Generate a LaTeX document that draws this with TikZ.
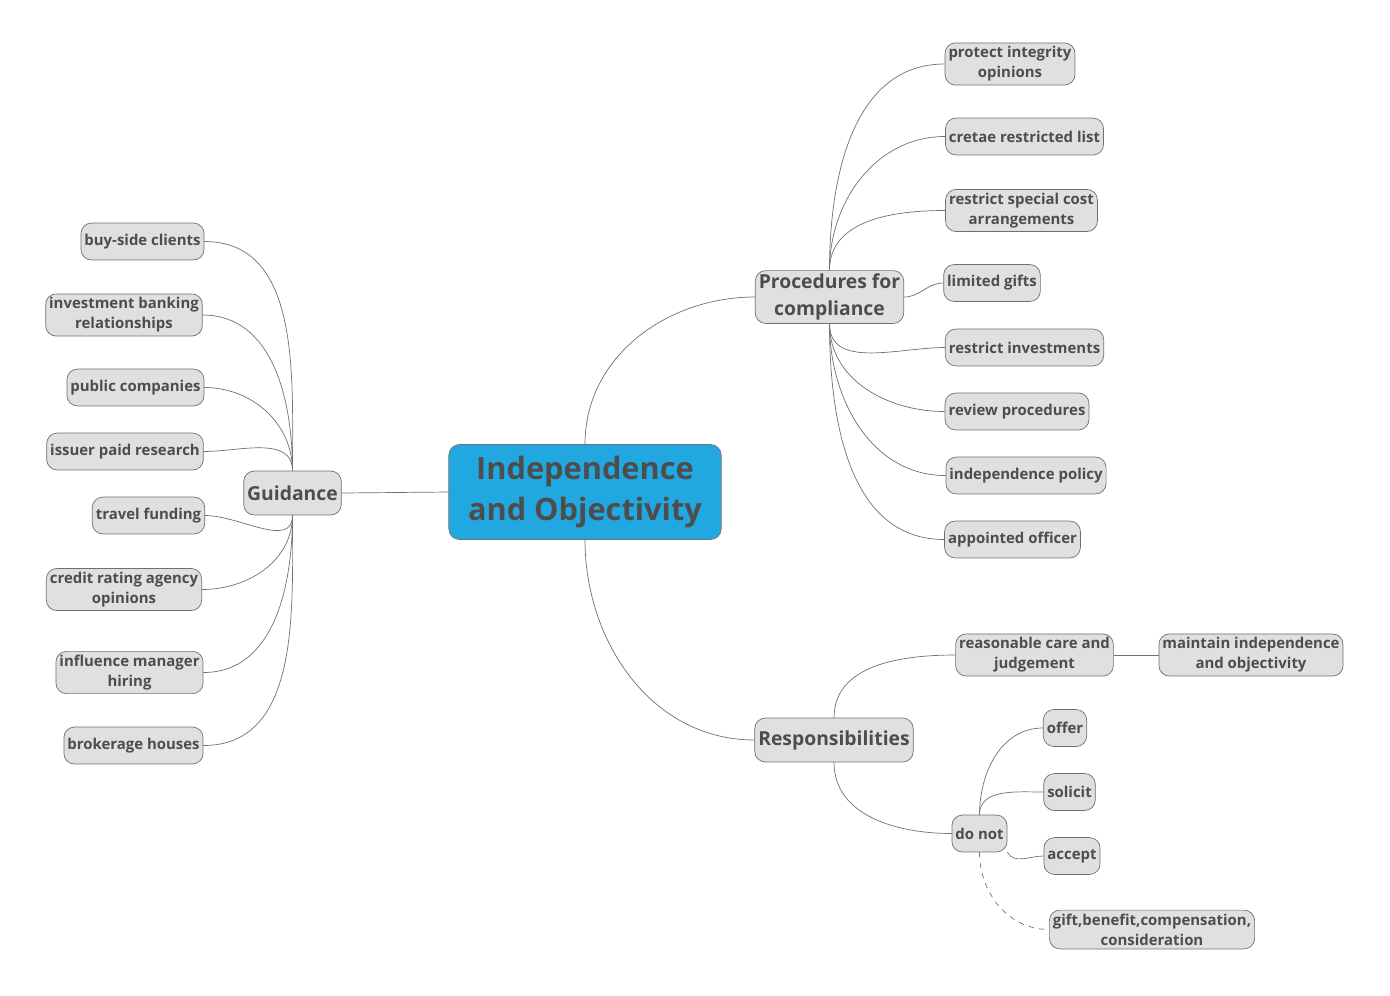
\documentclass[tikz,border=0pt]{standalone}
\usepackage{fontspec}
\setmainfont{Open Sans}
\usetikzlibrary{positioning}
\definecolor{txt}{HTML}{4D4D4D}
\definecolor{edge}{HTML}{707070}
\definecolor{box}{HTML}{E0E0E0}
\definecolor{rootblue}{HTML}{22A8E0}
\tikzset{
leaf/.style={
    draw=edge,
    fill=box,
    rounded corners=6pt,
    align=center,
    text=txt,
    font=\bfseries\fontsize{8.5}{11.5}\selectfont,
    inner sep=2pt,
    minimum height=21pt
},
branch/.style={
    leaf,
    font=\bfseries\fontsize{11}{15}\selectfont,
    minimum height=25pt
},
root/.style={
    leaf,
    fill=rootblue,
    font=\bfseries\fontsize{17.5}{23}\selectfont,
    minimum width=155pt,
    minimum height=54pt
},
link/.style={
    draw=edge,
    thin
}}

\begin{document}
\begin{tikzpicture}[x=0.02cm, y=-0.02cm]
\useasboundingbox (0,0) rectangle (1390,995);

\node[root]   (io)   at (585,492)   {Independence\\and Objectivity};
\node[branch] (proc) at (829.5,297) {Procedures for\\compliance};
\node[branch] (resp) at (834,740)   {Responsibilities};
\node[branch] (guid) at (292.5,493) {Guidance};

% procedures
\node[leaf] (p1) at (1010,64)     {protect integrity\\opinions};
\node[leaf] (p2) at (1024.5,136.5){cretae restricted list};
\node[leaf] (p3) at (1021.5,210.5){restrict special cost\\arrangements};
\node[leaf] (p4) at (992,283)     {limited gifts};
\node[leaf] (p5) at (1024.5,347.5){restrict investments};
\node[leaf] (p6) at (1017,411.5)  {review procedures};
\node[leaf] (p7) at (1026,475.5)  {independence policy};
\node[leaf] (p8) at (1012.5,539.5){appointed officer};

% guidance
\node[leaf] (g1) at (142.5,241.5) {buy-side clients};
\node[leaf] (g2) at (124,315)     {investment banking\\relationships};
\node[leaf] (g3) at (135.5,387.5) {public companies};
\node[leaf] (g4) at (125,451.5)   {issuer paid research};
\node[leaf] (g5) at (148.5,515.5) {travel funding};
\node[leaf] (g6) at (124,589.5)   {credit rating agency\\opinions};
\node[leaf] (g7) at (129.5,672.5) {influence manager\\hiring};
\node[leaf] (g8) at (133.5,745.5) {brokerage houses};

% responsibilities
\node[leaf] (r1)  at (1034.5,655) {reasonable care and\\judgement};
\node[leaf] (r11) at (1251,655)   {maintain independence\\and objectivity};
\node[leaf] (r2)  at (979.5,833.5){do not};
\node[leaf] (r21) at (1065,728)   {offer};
\node[leaf] (r22) at (1069.5,792) {solicit};
\node[leaf] (r23) at (1072,856)   {accept};
\node[leaf] (r24) at (1152,929.5) {gift,benefit,compensation,\\consideration};

\draw[link] (io.north) to[out=90, in=180] (proc.west);
\draw[link] (io.south) to[out=-90, in=180] (resp.west);
\draw[link] (io.west) -- (guid.east);

\foreach \c in {p1,p2,p3}
  \draw[link] (proc.north) to[out=90, in=180] (\c.west);
\draw[link] (proc.east) to[out=0, in=180] (p4.west);
\foreach \c in {p5,p6,p7,p8}
  \draw[link] (proc.south) to[out=-90, in=180] (\c.west);

\foreach \c in {g1,g2,g3,g4}
  \draw[link] (guid.north) to[out=90, in=0] (\c.east);
\foreach \c in {g5,g6,g7,g8}
  \draw[link] (guid.south) to[out=-90, in=0] (\c.east);

\draw[link] (resp.north) to[out=90, in=180] (r1.west);
\draw[link] (resp.south) to[out=-90, in=180] (r2.west);
\draw[link] (r1.east) -- (r11.west);
\draw[link] (r2.north) to[out=90, in=180] (r21.west);
\draw[link] (r2.north) to[out=90, in=180] (r22.west);
\draw[link] (r2.south east) to[out=-60, in=180] (r23.west);
\draw[link, dashed] (r2.south) to[out=-90, in=180] (r24.west);
\end{tikzpicture}
\end{document}
